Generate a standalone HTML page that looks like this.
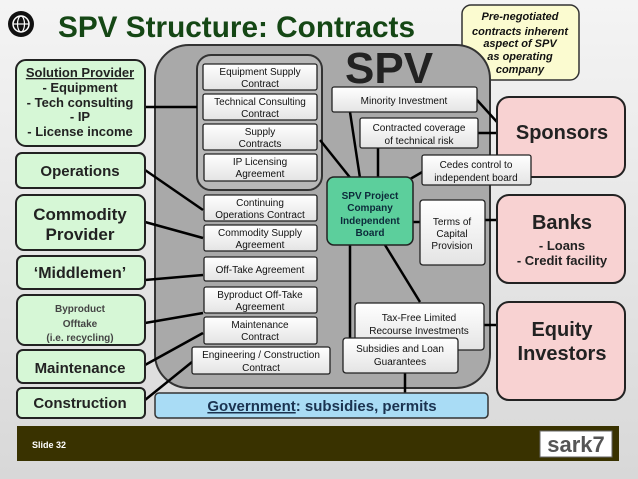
<!DOCTYPE html>
<html><head><meta charset="utf-8"><style>
body{margin:0;width:638px;height:479px;overflow:hidden;background:#ececec}
svg{display:block}
text{font-family:"Liberation Sans",sans-serif}
</style></head><body>
<svg width="638" height="479" viewBox="0 0 638 479">
<defs>
<linearGradient id="bg" x1="0" y1="0" x2="0" y2="1"><stop offset="0" stop-color="#f4f4f4"/><stop offset="1" stop-color="#d8d8d8"/></linearGradient>
<linearGradient id="wb" x1="0" y1="0" x2="0" y2="1"><stop offset="0" stop-color="#ffffff"/><stop offset="1" stop-color="#e4e4e4"/></linearGradient>
</defs>
<rect width="638" height="479" fill="url(#bg)"/>
<circle cx="21" cy="24" r="13" fill="#111"/>
<circle cx="21" cy="24" r="8" fill="none" stroke="#fff" stroke-width="1.5"/>
<ellipse cx="21" cy="24" rx="3.5" ry="8" fill="none" stroke="#fff" stroke-width="1.2"/>
<line x1="13" y1="24" x2="29" y2="24" stroke="#fff" stroke-width="1.2"/>
<text x="58" y="37" font-size="30" font-weight="bold" fill="#154715" textLength="357" lengthAdjust="spacingAndGlyphs">SPV Structure: Contracts</text>
<rect x="462" y="5" width="117" height="75" rx="9" fill="#fbfbd0" stroke="#333" stroke-width="1.5"/>
<g font-size="11" font-style="italic" font-weight="bold" text-anchor="middle" fill="#111">
<text x="520" y="20">Pre-negotiated</text><text x="520" y="35">contracts inherent</text><text x="520" y="47">aspect of SPV</text><text x="520" y="60">as operating</text><text x="520" y="73">company</text></g>
<rect x="155" y="45" width="335" height="343" rx="34" fill="#a9a9a9" stroke="#333" stroke-width="2"/>
<text x="345" y="83" font-size="44" font-weight="bold" fill="#222">SPV</text>
<rect x="197" y="55" width="125" height="135" rx="14" fill="#b8b8b8" stroke="#333" stroke-width="2"/>
<g stroke="#000" stroke-width="2.5" fill="none">
<line x1="145" y1="107" x2="197" y2="107"/>
<line x1="145" y1="170" x2="203" y2="210"/>
<line x1="145" y1="222" x2="203" y2="238"/>
<line x1="145" y1="280" x2="203" y2="275"/>
<line x1="145" y1="323" x2="203" y2="313"/>
<line x1="145" y1="365" x2="203" y2="333"/>
<line x1="145" y1="400" x2="192" y2="362"/>
<line x1="320" y1="140" x2="352" y2="180"/>
<line x1="350" y1="112" x2="360" y2="178"/>
<line x1="378" y1="148" x2="378" y2="178"/>
<line x1="405" y1="182" x2="424" y2="171"/>
<line x1="413" y1="222" x2="420" y2="222"/>
<line x1="385" y1="245" x2="420" y2="302"/>
<line x1="350" y1="245" x2="350" y2="338"/>
<line x1="405" y1="373" x2="405" y2="393"/>
<line x1="477" y1="100" x2="497" y2="122"/>
<line x1="478" y1="133" x2="497" y2="133"/>
<line x1="485" y1="220" x2="497" y2="220"/>
<line x1="484" y1="325" x2="497" y2="325"/>
</g>
<g fill="url(#wb)" stroke="#222" stroke-width="1.3">
<rect x="203" y="64" width="114" height="26" rx="2"/>
<rect x="203" y="94" width="114" height="26" rx="2"/>
<rect x="203" y="124" width="114" height="26" rx="2"/>
<rect x="204" y="154" width="113" height="27" rx="2"/>
<rect x="204" y="195" width="113" height="26" rx="2"/>
<rect x="204" y="225" width="113" height="26" rx="2"/>
<rect x="204" y="257" width="113" height="24" rx="2"/>
<rect x="204" y="287" width="113" height="26" rx="2"/>
<rect x="204" y="317" width="113" height="27" rx="2"/>
<rect x="192" y="347" width="138" height="27" rx="2"/>
<rect x="332" y="87" width="145" height="25" rx="2"/>
<rect x="360" y="118" width="118" height="30" rx="2"/>
<rect x="420" y="200" width="65" height="65" rx="3"/>
<rect x="355" y="303" width="129" height="47" rx="3"/>
<rect x="343" y="338" width="115" height="35" rx="3"/>
</g>
<g font-size="10" text-anchor="middle" fill="#111">
<text x="260" y="75">Equipment Supply</text><text x="260" y="87">Contract</text>
<text x="260" y="105">Technical Consulting</text><text x="260" y="117">Contract</text>
<text x="260" y="135">Supply</text><text x="260" y="147">Contracts</text>
<text x="260" y="165">IP Licensing</text><text x="260" y="177">Agreement</text>
<text x="260" y="206">Continuing</text><text x="260" y="218">Operations Contract</text>
<text x="260" y="236">Commodity Supply</text><text x="260" y="248">Agreement</text>
<text x="260" y="273">Off-Take Agreement</text>
<text x="260" y="298">Byproduct Off-Take</text><text x="260" y="310">Agreement</text>
<text x="260" y="328">Maintenance</text><text x="260" y="340">Contract</text>
<text x="261" y="358">Engineering / Construction</text><text x="261" y="371">Contract</text>
<text x="404" y="104">Minority Investment</text>
<text x="419" y="131">Contracted coverage</text><text x="419" y="144">of technical risk</text>
<text x="452" y="225">Terms of</text><text x="452" y="237">Capital</text><text x="452" y="249">Provision</text>
<text x="419" y="321">Tax-Free Limited</text><text x="419" y="334">Recourse Investments</text>
<text x="400" y="352">Subsidies and Loan</text><text x="400" y="365">Guarantees</text>
</g>
<rect x="327" y="177" width="86" height="68" rx="7" fill="#5ccf9c" stroke="#222" stroke-width="1.5"/>
<g font-size="10" font-weight="bold" text-anchor="middle" fill="#0c2a3a">
<text x="370" y="199">SPV Project</text><text x="370" y="211">Company</text><text x="370" y="224">Independent</text><text x="370" y="236">Board</text></g>
<g fill="#d6f7d6" stroke="#222" stroke-width="2">
<rect x="16" y="60" width="129" height="86" rx="10"/>
<rect x="16" y="153" width="129" height="35" rx="6"/>
<rect x="16" y="195" width="129" height="55" rx="8"/>
<rect x="17" y="256" width="128" height="33" rx="6"/>
<rect x="17" y="295" width="128" height="50" rx="8"/>
<rect x="17" y="350" width="128" height="33" rx="6"/>
<rect x="17" y="388" width="128" height="30" rx="5"/>
</g>
<g font-weight="bold" text-anchor="middle" fill="#222">
<text x="80" y="77" font-size="13" text-decoration="underline">Solution Provider</text>
<text x="80" y="92" font-size="13">- Equipment</text>
<text x="80" y="107" font-size="13">- Tech consulting</text>
<text x="80" y="121" font-size="13">- IP</text>
<text x="80" y="136" font-size="13">- License income</text>
<text x="80" y="176" font-size="15">Operations</text>
<text x="80" y="220" font-size="17">Commodity</text>
<text x="80" y="240" font-size="17">Provider</text>
<text x="80" y="278" font-size="16">‘Middlemen’</text>
<text x="80" y="312" font-size="10" fill="#444">Byproduct</text>
<text x="80" y="327" font-size="10" fill="#444">Offtake</text>
<text x="80" y="341" font-size="10" fill="#444">(i.e. recycling)</text>
<text x="80" y="373" font-size="15">Maintenance</text>
<text x="80" y="408" font-size="15">Construction</text>
</g>
<g fill="#f8d2d2" stroke="#222" stroke-width="2">
<rect x="497" y="97" width="128" height="80" rx="12"/>
<rect x="497" y="195" width="128" height="88" rx="12"/>
<rect x="497" y="302" width="128" height="98" rx="12"/>
</g>
<g font-weight="bold" text-anchor="middle" fill="#222">
<text x="562" y="139" font-size="20">Sponsors</text>
<text x="562" y="229" font-size="20">Banks</text>
<text x="562" y="250" font-size="13">- Loans</text>
<text x="562" y="265" font-size="13">- Credit facility</text>
<text x="562" y="336" font-size="20">Equity</text>
<text x="562" y="360" font-size="20">Investors</text>
</g>
<rect x="422" y="155" width="109" height="30" rx="2" fill="url(#wb)" stroke="#222" stroke-width="1.3"/>
<g font-size="10" text-anchor="middle" fill="#111">
<text x="476" y="168">Cedes control to</text><text x="476" y="181">independent board</text></g>
<rect x="155" y="393" width="333" height="25" rx="4" fill="#a9dcf5" stroke="#333" stroke-width="1.5"/>
<text x="322" y="411" font-size="15" font-weight="bold" text-anchor="middle" fill="#1b3350"><tspan text-decoration="underline">Government</tspan>: subsidies, permits</text>
<rect x="17" y="426" width="602" height="35" fill="#393200"/>
<text x="32" y="448" font-size="9" font-weight="bold" fill="#fff">Slide 32</text>
<rect x="540" y="431" width="72" height="26" fill="#fff" stroke="#666"/>
<text x="576" y="452" font-size="22" font-weight="bold" text-anchor="middle" fill="#555">sark7</text>
</svg>
</body></html>
